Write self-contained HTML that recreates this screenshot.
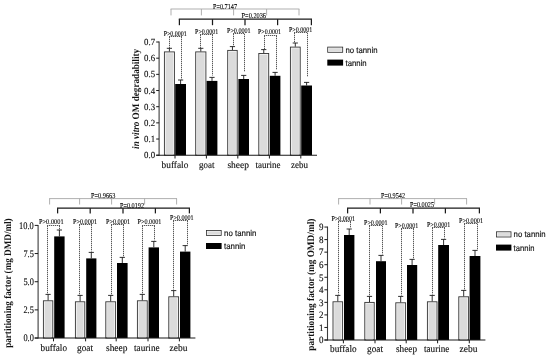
<!DOCTYPE html>
<html lang="en"><head><meta charset="utf-8"><title>Figure</title>
<style>
html,body{margin:0;padding:0;background:#fff;}
body{width:550px;height:359px;overflow:hidden;}
svg{display:block;text-rendering:geometricPrecision;}

.sf{font-family:"Liberation Serif","DejaVu Serif",serif;}
.ss{font-family:"Liberation Sans","DejaVu Sans",sans-serif;}
</style></head><body>
<svg width="550" height="359" viewBox="0 0 550 359">
<rect x="0" y="0" width="550" height="359" fill="#ffffff"/>
<rect x="164.40" y="51.90" width="10.00" height="103.30" fill="#f6f6f6" stroke="#333" stroke-width="0.9"/>
<rect x="165.70" y="53.20" width="7.40" height="102.00" fill="#dbdbdb"/>
<rect x="175.20" y="84.00" width="10.80" height="71.20" fill="#000"/>
<line x1="169.40" y1="51.50" x2="169.40" y2="48.30" stroke="#1a1a1a" stroke-width="0.9" />
<line x1="166.80" y1="48.30" x2="172.00" y2="48.30" stroke="#1a1a1a" stroke-width="0.9" />
<line x1="180.60" y1="84.00" x2="180.60" y2="80.00" stroke="#1a1a1a" stroke-width="0.9" />
<line x1="178.00" y1="80.00" x2="183.20" y2="80.00" stroke="#1a1a1a" stroke-width="0.9" />
<rect x="195.70" y="51.90" width="10.20" height="103.30" fill="#f6f6f6" stroke="#333" stroke-width="0.9"/>
<rect x="197.00" y="53.20" width="7.60" height="102.00" fill="#dbdbdb"/>
<rect x="206.60" y="80.90" width="10.80" height="74.30" fill="#000"/>
<line x1="200.80" y1="51.50" x2="200.80" y2="48.30" stroke="#1a1a1a" stroke-width="0.9" />
<line x1="198.20" y1="48.30" x2="203.40" y2="48.30" stroke="#1a1a1a" stroke-width="0.9" />
<line x1="212.00" y1="80.90" x2="212.00" y2="77.40" stroke="#1a1a1a" stroke-width="0.9" />
<line x1="209.40" y1="77.40" x2="214.60" y2="77.40" stroke="#1a1a1a" stroke-width="0.9" />
<rect x="227.70" y="50.40" width="9.50" height="104.80" fill="#f6f6f6" stroke="#333" stroke-width="0.9"/>
<rect x="229.00" y="51.70" width="6.90" height="103.50" fill="#dbdbdb"/>
<rect x="238.40" y="79.00" width="10.60" height="76.20" fill="#000"/>
<line x1="232.45" y1="50.00" x2="232.45" y2="46.60" stroke="#1a1a1a" stroke-width="0.9" />
<line x1="229.85" y1="46.60" x2="235.05" y2="46.60" stroke="#1a1a1a" stroke-width="0.9" />
<line x1="243.70" y1="79.00" x2="243.70" y2="75.40" stroke="#1a1a1a" stroke-width="0.9" />
<line x1="241.10" y1="75.40" x2="246.30" y2="75.40" stroke="#1a1a1a" stroke-width="0.9" />
<rect x="258.80" y="53.50" width="9.90" height="101.70" fill="#f6f6f6" stroke="#333" stroke-width="0.9"/>
<rect x="260.10" y="54.80" width="7.30" height="100.40" fill="#dbdbdb"/>
<rect x="269.80" y="75.80" width="10.60" height="79.40" fill="#000"/>
<line x1="263.75" y1="53.10" x2="263.75" y2="49.60" stroke="#1a1a1a" stroke-width="0.9" />
<line x1="261.15" y1="49.60" x2="266.35" y2="49.60" stroke="#1a1a1a" stroke-width="0.9" />
<line x1="275.10" y1="75.80" x2="275.10" y2="72.40" stroke="#1a1a1a" stroke-width="0.9" />
<line x1="272.50" y1="72.40" x2="277.70" y2="72.40" stroke="#1a1a1a" stroke-width="0.9" />
<rect x="290.40" y="47.10" width="9.80" height="108.10" fill="#f6f6f6" stroke="#333" stroke-width="0.9"/>
<rect x="291.70" y="48.40" width="7.20" height="106.80" fill="#dbdbdb"/>
<rect x="301.20" y="85.50" width="10.80" height="69.70" fill="#000"/>
<line x1="295.30" y1="46.70" x2="295.30" y2="43.00" stroke="#1a1a1a" stroke-width="0.9" />
<line x1="292.70" y1="43.00" x2="297.90" y2="43.00" stroke="#1a1a1a" stroke-width="0.9" />
<line x1="306.60" y1="85.50" x2="306.60" y2="82.40" stroke="#1a1a1a" stroke-width="0.9" />
<line x1="304.00" y1="82.40" x2="309.20" y2="82.40" stroke="#1a1a1a" stroke-width="0.9" />
<line x1="169.00" y1="36.50" x2="182.00" y2="36.50" stroke="#444" stroke-width="0.9" stroke-dasharray="1.3 0.7"/>
<line x1="169.50" y1="37.00" x2="169.50" y2="48.00" stroke="#444" stroke-width="0.9" stroke-dasharray="1.3 0.7"/>
<line x1="181.50" y1="37.00" x2="181.50" y2="79.50" stroke="#444" stroke-width="0.9" stroke-dasharray="1.3 0.7"/>
<text class="sf" x="163.70" y="35.70" font-size="7.1" font-weight="normal" text-anchor="start" fill="#000" textLength="23.10" lengthAdjust="spacingAndGlyphs"  stroke="#000" stroke-width="0.1">P&gt;0.0001</text>
<line x1="200.00" y1="34.50" x2="213.00" y2="34.50" stroke="#444" stroke-width="0.9" stroke-dasharray="1.3 0.7"/>
<line x1="200.50" y1="35.00" x2="200.50" y2="48.00" stroke="#444" stroke-width="0.9" stroke-dasharray="1.3 0.7"/>
<line x1="212.50" y1="35.00" x2="212.50" y2="75.50" stroke="#444" stroke-width="0.9" stroke-dasharray="1.3 0.7"/>
<text class="sf" x="195.10" y="34.10" font-size="7.1" font-weight="normal" text-anchor="start" fill="#000" textLength="23.20" lengthAdjust="spacingAndGlyphs"  stroke="#000" stroke-width="0.1">P&gt;0.0001</text>
<line x1="233.00" y1="33.50" x2="245.00" y2="33.50" stroke="#444" stroke-width="0.9" stroke-dasharray="1.3 0.7"/>
<line x1="233.50" y1="34.00" x2="233.50" y2="46.30" stroke="#444" stroke-width="0.9" stroke-dasharray="1.3 0.7"/>
<line x1="244.50" y1="34.00" x2="244.50" y2="71.50" stroke="#444" stroke-width="0.9" stroke-dasharray="1.3 0.7"/>
<text class="sf" x="227.00" y="32.60" font-size="7.1" font-weight="normal" text-anchor="start" fill="#000" textLength="23.60" lengthAdjust="spacingAndGlyphs"  stroke="#000" stroke-width="0.1">P&gt;0.0001</text>
<line x1="264.00" y1="35.50" x2="277.00" y2="35.50" stroke="#444" stroke-width="0.9" stroke-dasharray="1.3 0.7"/>
<line x1="264.50" y1="36.00" x2="264.50" y2="49.30" stroke="#444" stroke-width="0.9" stroke-dasharray="1.3 0.7"/>
<line x1="276.50" y1="36.00" x2="276.50" y2="69.50" stroke="#444" stroke-width="0.9" stroke-dasharray="1.3 0.7"/>
<text class="sf" x="258.00" y="34.40" font-size="7.1" font-weight="normal" text-anchor="start" fill="#000" textLength="23.00" lengthAdjust="spacingAndGlyphs"  stroke="#000" stroke-width="0.1">P&gt;0.0001</text>
<line x1="294.00" y1="32.50" x2="308.00" y2="32.50" stroke="#444" stroke-width="0.9" stroke-dasharray="1.3 0.7"/>
<line x1="294.50" y1="33.00" x2="294.50" y2="42.70" stroke="#444" stroke-width="0.9" stroke-dasharray="1.3 0.7"/>
<line x1="307.50" y1="33.00" x2="307.50" y2="77.00" stroke="#444" stroke-width="0.9" stroke-dasharray="1.3 0.7"/>
<text class="sf" x="289.00" y="31.60" font-size="7.1" font-weight="normal" text-anchor="start" fill="#000" textLength="23.40" lengthAdjust="spacingAndGlyphs"  stroke="#000" stroke-width="0.1">P&gt;0.0001</text>
<line x1="170.60" y1="9.00" x2="299.40" y2="9.00" stroke="#a6a6a6" stroke-width="0.9" />
<line x1="171.00" y1="9.00" x2="171.00" y2="15.40" stroke="#a6a6a6" stroke-width="0.9" />
<line x1="201.40" y1="9.00" x2="201.40" y2="15.40" stroke="#a6a6a6" stroke-width="0.9" />
<line x1="233.60" y1="9.00" x2="233.60" y2="15.40" stroke="#a6a6a6" stroke-width="0.9" />
<line x1="266.60" y1="9.00" x2="266.60" y2="15.40" stroke="#a6a6a6" stroke-width="0.9" />
<line x1="299.00" y1="9.00" x2="299.00" y2="15.40" stroke="#a6a6a6" stroke-width="0.9" />
<text class="sf" x="213.00" y="8.70" font-size="7.5" font-weight="normal" text-anchor="start" fill="#000" textLength="24.00" lengthAdjust="spacingAndGlyphs"  stroke="#000" stroke-width="0.1">P=0.7147</text>
<line x1="178.80" y1="19.20" x2="312.00" y2="19.20" stroke="#1a1a1a" stroke-width="1.25" />
<line x1="179.40" y1="19.20" x2="179.40" y2="25.20" stroke="#1a1a1a" stroke-width="1.25" />
<line x1="212.50" y1="19.20" x2="212.50" y2="25.20" stroke="#1a1a1a" stroke-width="1.25" />
<line x1="245.00" y1="19.20" x2="245.00" y2="25.20" stroke="#1a1a1a" stroke-width="1.25" />
<line x1="277.60" y1="19.20" x2="277.60" y2="25.20" stroke="#1a1a1a" stroke-width="1.25" />
<line x1="311.40" y1="19.20" x2="311.40" y2="25.20" stroke="#1a1a1a" stroke-width="1.25" />
<text class="sf" x="241.60" y="18.30" font-size="7.5" font-weight="normal" text-anchor="start" fill="#000" textLength="24.40" lengthAdjust="spacingAndGlyphs"  stroke="#000" stroke-width="0.1">P=0.2036</text>
<line x1="159.10" y1="41.50" x2="159.10" y2="155.70" stroke="#3c3c3c" stroke-width="1.1" />
<line x1="156.20" y1="155.20" x2="317.00" y2="155.20" stroke="#1a1a1a" stroke-width="1.1" />
<line x1="156.20" y1="155.20" x2="159.10" y2="155.20" stroke="#1a1a1a" stroke-width="1.0" />
<text class="sf" x="155.10" y="158.34" font-size="9.3" font-weight="normal" text-anchor="end" fill="#111" textLength="11.00" lengthAdjust="spacingAndGlyphs"  stroke="#111" stroke-width="0.14">0.0</text>
<line x1="156.20" y1="139.03" x2="159.10" y2="139.03" stroke="#1a1a1a" stroke-width="1.0" />
<text class="sf" x="155.10" y="142.17" font-size="9.3" font-weight="normal" text-anchor="end" fill="#111" textLength="11.00" lengthAdjust="spacingAndGlyphs"  stroke="#111" stroke-width="0.14">0.1</text>
<line x1="156.20" y1="122.86" x2="159.10" y2="122.86" stroke="#1a1a1a" stroke-width="1.0" />
<text class="sf" x="155.10" y="126.00" font-size="9.3" font-weight="normal" text-anchor="end" fill="#111" textLength="11.00" lengthAdjust="spacingAndGlyphs"  stroke="#111" stroke-width="0.14">0.2</text>
<line x1="156.20" y1="106.69" x2="159.10" y2="106.69" stroke="#1a1a1a" stroke-width="1.0" />
<text class="sf" x="155.10" y="109.83" font-size="9.3" font-weight="normal" text-anchor="end" fill="#111" textLength="11.00" lengthAdjust="spacingAndGlyphs"  stroke="#111" stroke-width="0.14">0.3</text>
<line x1="156.20" y1="90.52" x2="159.10" y2="90.52" stroke="#1a1a1a" stroke-width="1.0" />
<text class="sf" x="155.10" y="93.66" font-size="9.3" font-weight="normal" text-anchor="end" fill="#111" textLength="11.00" lengthAdjust="spacingAndGlyphs"  stroke="#111" stroke-width="0.14">0.4</text>
<line x1="156.20" y1="74.35" x2="159.10" y2="74.35" stroke="#1a1a1a" stroke-width="1.0" />
<text class="sf" x="155.10" y="77.49" font-size="9.3" font-weight="normal" text-anchor="end" fill="#111" textLength="11.00" lengthAdjust="spacingAndGlyphs"  stroke="#111" stroke-width="0.14">0.5</text>
<line x1="156.20" y1="58.18" x2="159.10" y2="58.18" stroke="#1a1a1a" stroke-width="1.0" />
<text class="sf" x="155.10" y="61.32" font-size="9.3" font-weight="normal" text-anchor="end" fill="#111" textLength="11.00" lengthAdjust="spacingAndGlyphs"  stroke="#111" stroke-width="0.14">0.6</text>
<line x1="156.20" y1="42.01" x2="159.10" y2="42.01" stroke="#1a1a1a" stroke-width="1.0" />
<text class="sf" x="155.10" y="45.15" font-size="9.3" font-weight="normal" text-anchor="end" fill="#111" textLength="11.00" lengthAdjust="spacingAndGlyphs"  stroke="#111" stroke-width="0.14">0.7</text>
<line x1="175.00" y1="155.20" x2="175.00" y2="158.50" stroke="#1a1a1a" stroke-width="1.0" />
<line x1="206.40" y1="155.20" x2="206.40" y2="158.50" stroke="#1a1a1a" stroke-width="1.0" />
<line x1="237.80" y1="155.20" x2="237.80" y2="158.50" stroke="#1a1a1a" stroke-width="1.0" />
<line x1="269.40" y1="155.20" x2="269.40" y2="158.50" stroke="#1a1a1a" stroke-width="1.0" />
<line x1="300.80" y1="155.20" x2="300.80" y2="158.50" stroke="#1a1a1a" stroke-width="1.0" />
<text class="sf" x="161.60" y="167.50" font-size="9.7" font-weight="normal" text-anchor="start" fill="#111" textLength="26.80" lengthAdjust="spacingAndGlyphs"  stroke="#111" stroke-width="0.14">buffalo</text>
<text class="sf" x="199.00" y="167.50" font-size="9.7" font-weight="normal" text-anchor="start" fill="#111" textLength="15.40" lengthAdjust="spacingAndGlyphs"  stroke="#111" stroke-width="0.14">goat</text>
<text class="sf" x="227.40" y="167.50" font-size="9.7" font-weight="normal" text-anchor="start" fill="#111" textLength="21.60" lengthAdjust="spacingAndGlyphs"  stroke="#111" stroke-width="0.14">sheep</text>
<text class="sf" x="255.60" y="167.50" font-size="9.7" font-weight="normal" text-anchor="start" fill="#111" textLength="25.00" lengthAdjust="spacingAndGlyphs"  stroke="#111" stroke-width="0.14">taurine</text>
<text class="sf" x="291.00" y="167.50" font-size="9.7" font-weight="normal" text-anchor="start" fill="#111" textLength="17.00" lengthAdjust="spacingAndGlyphs"  stroke="#111" stroke-width="0.14">zebu</text>
<rect x="327.70" y="47.10" width="15.00" height="5.20" fill="#f4f4f4" stroke="#2b2b2b" stroke-width="0.8"/>
<rect x="328.80" y="48.20" width="12.80" height="3.00" fill="#dcdcdc"/>
<rect x="327.30" y="59.60" width="15.80" height="6.00" fill="#000"/>
<text class="ss" x="345.50" y="52.70" font-size="8.4" font-weight="normal" text-anchor="start" fill="#111" textLength="32.00" lengthAdjust="spacingAndGlyphs"  stroke="#111" stroke-width="0.15">no tannin</text>
<text class="ss" x="345.50" y="65.60" font-size="8.4" font-weight="normal" text-anchor="start" fill="#111" textLength="21.20" lengthAdjust="spacingAndGlyphs"  stroke="#111" stroke-width="0.15">tannin</text>
<text class="sf" transform="translate(139.00,98.90) rotate(-90) scale(1,1.0)" font-size="10.0" font-weight="bold" text-anchor="middle" fill="#111" textLength="100.00" lengthAdjust="spacingAndGlyphs"><tspan font-style="italic">in vitro</tspan> OM degradability</text>
<rect x="43.40" y="300.80" width="9.40" height="37.25" fill="#f6f6f6" stroke="#333" stroke-width="0.9"/>
<rect x="44.70" y="302.10" width="6.80" height="35.95" fill="#dbdbdb"/>
<rect x="54.20" y="236.40" width="10.40" height="101.65" fill="#000"/>
<line x1="48.10" y1="300.40" x2="48.10" y2="294.40" stroke="#1a1a1a" stroke-width="0.9" />
<line x1="45.50" y1="294.40" x2="50.70" y2="294.40" stroke="#1a1a1a" stroke-width="0.9" />
<line x1="59.40" y1="236.40" x2="59.40" y2="230.00" stroke="#1a1a1a" stroke-width="0.9" />
<line x1="56.80" y1="230.00" x2="62.00" y2="230.00" stroke="#1a1a1a" stroke-width="0.9" />
<rect x="75.40" y="301.80" width="9.40" height="36.25" fill="#f6f6f6" stroke="#333" stroke-width="0.9"/>
<rect x="76.70" y="303.10" width="6.80" height="34.95" fill="#dbdbdb"/>
<rect x="86.20" y="258.40" width="10.20" height="79.65" fill="#000"/>
<line x1="80.10" y1="301.40" x2="80.10" y2="295.40" stroke="#1a1a1a" stroke-width="0.9" />
<line x1="77.50" y1="295.40" x2="82.70" y2="295.40" stroke="#1a1a1a" stroke-width="0.9" />
<line x1="91.30" y1="258.40" x2="91.30" y2="252.40" stroke="#1a1a1a" stroke-width="0.9" />
<line x1="88.70" y1="252.40" x2="93.90" y2="252.40" stroke="#1a1a1a" stroke-width="0.9" />
<rect x="105.80" y="301.80" width="9.80" height="36.25" fill="#f6f6f6" stroke="#333" stroke-width="0.9"/>
<rect x="107.10" y="303.10" width="7.20" height="34.95" fill="#dbdbdb"/>
<rect x="117.00" y="263.00" width="10.60" height="75.05" fill="#000"/>
<line x1="110.70" y1="301.40" x2="110.70" y2="295.40" stroke="#1a1a1a" stroke-width="0.9" />
<line x1="108.10" y1="295.40" x2="113.30" y2="295.40" stroke="#1a1a1a" stroke-width="0.9" />
<line x1="122.30" y1="263.00" x2="122.30" y2="257.40" stroke="#1a1a1a" stroke-width="0.9" />
<line x1="119.70" y1="257.40" x2="124.90" y2="257.40" stroke="#1a1a1a" stroke-width="0.9" />
<rect x="137.40" y="300.80" width="9.80" height="37.25" fill="#f6f6f6" stroke="#333" stroke-width="0.9"/>
<rect x="138.70" y="302.10" width="7.20" height="35.95" fill="#dbdbdb"/>
<rect x="148.60" y="247.40" width="10.40" height="90.65" fill="#000"/>
<line x1="142.30" y1="300.40" x2="142.30" y2="294.40" stroke="#1a1a1a" stroke-width="0.9" />
<line x1="139.70" y1="294.40" x2="144.90" y2="294.40" stroke="#1a1a1a" stroke-width="0.9" />
<line x1="153.80" y1="247.40" x2="153.80" y2="241.40" stroke="#1a1a1a" stroke-width="0.9" />
<line x1="151.20" y1="241.40" x2="156.40" y2="241.40" stroke="#1a1a1a" stroke-width="0.9" />
<rect x="168.80" y="296.80" width="9.80" height="41.25" fill="#f6f6f6" stroke="#333" stroke-width="0.9"/>
<rect x="170.10" y="298.10" width="7.20" height="39.95" fill="#dbdbdb"/>
<rect x="180.00" y="251.60" width="10.40" height="86.45" fill="#000"/>
<line x1="173.70" y1="296.40" x2="173.70" y2="290.60" stroke="#1a1a1a" stroke-width="0.9" />
<line x1="171.10" y1="290.60" x2="176.30" y2="290.60" stroke="#1a1a1a" stroke-width="0.9" />
<line x1="185.20" y1="251.60" x2="185.20" y2="245.60" stroke="#1a1a1a" stroke-width="0.9" />
<line x1="182.60" y1="245.60" x2="187.80" y2="245.60" stroke="#1a1a1a" stroke-width="0.9" />
<line x1="47.00" y1="225.50" x2="60.00" y2="225.50" stroke="#444" stroke-width="0.9" stroke-dasharray="1.3 0.7"/>
<line x1="47.50" y1="226.00" x2="47.50" y2="293.50" stroke="#444" stroke-width="0.9" stroke-dasharray="1.3 0.7"/>
<line x1="59.50" y1="226.00" x2="59.50" y2="229.50" stroke="#444" stroke-width="0.9" stroke-dasharray="1.3 0.7"/>
<text class="sf" x="39.00" y="224.40" font-size="7.1" font-weight="normal" text-anchor="start" fill="#000" textLength="24.60" lengthAdjust="spacingAndGlyphs"  stroke="#000" stroke-width="0.1">P&gt;0.0001</text>
<line x1="79.00" y1="224.50" x2="92.00" y2="224.50" stroke="#444" stroke-width="0.9" stroke-dasharray="1.3 0.7"/>
<line x1="79.50" y1="225.00" x2="79.50" y2="294.50" stroke="#444" stroke-width="0.9" stroke-dasharray="1.3 0.7"/>
<line x1="91.50" y1="225.00" x2="91.50" y2="251.50" stroke="#444" stroke-width="0.9" stroke-dasharray="1.3 0.7"/>
<text class="sf" x="73.00" y="224.40" font-size="7.1" font-weight="normal" text-anchor="start" fill="#000" textLength="24.00" lengthAdjust="spacingAndGlyphs"  stroke="#000" stroke-width="0.1">P&gt;0.0001</text>
<line x1="111.00" y1="224.50" x2="124.00" y2="224.50" stroke="#444" stroke-width="0.9" stroke-dasharray="1.3 0.7"/>
<line x1="111.50" y1="225.00" x2="111.50" y2="294.50" stroke="#444" stroke-width="0.9" stroke-dasharray="1.3 0.7"/>
<line x1="123.50" y1="225.00" x2="123.50" y2="256.30" stroke="#444" stroke-width="0.9" stroke-dasharray="1.3 0.7"/>
<text class="sf" x="106.00" y="224.40" font-size="7.1" font-weight="normal" text-anchor="start" fill="#000" textLength="24.00" lengthAdjust="spacingAndGlyphs"  stroke="#000" stroke-width="0.1">P&gt;0.0001</text>
<line x1="142.00" y1="225.50" x2="155.00" y2="225.50" stroke="#444" stroke-width="0.9" stroke-dasharray="1.3 0.7"/>
<line x1="142.50" y1="226.00" x2="142.50" y2="293.60" stroke="#444" stroke-width="0.9" stroke-dasharray="1.3 0.7"/>
<line x1="154.50" y1="226.00" x2="154.50" y2="240.30" stroke="#444" stroke-width="0.9" stroke-dasharray="1.3 0.7"/>
<text class="sf" x="137.60" y="224.40" font-size="7.1" font-weight="normal" text-anchor="start" fill="#000" textLength="23.80" lengthAdjust="spacingAndGlyphs"  stroke="#000" stroke-width="0.1">P&gt;0.0001</text>
<line x1="173.00" y1="220.50" x2="188.00" y2="220.50" stroke="#444" stroke-width="0.9" stroke-dasharray="1.3 0.7"/>
<line x1="173.50" y1="221.00" x2="173.50" y2="289.50" stroke="#444" stroke-width="0.9" stroke-dasharray="1.3 0.7"/>
<line x1="187.50" y1="221.00" x2="187.50" y2="244.60" stroke="#444" stroke-width="0.9" stroke-dasharray="1.3 0.7"/>
<text class="sf" x="170.00" y="220.30" font-size="7.1" font-weight="normal" text-anchor="start" fill="#000" textLength="23.60" lengthAdjust="spacingAndGlyphs"  stroke="#000" stroke-width="0.1">P&gt;0.0001</text>
<line x1="49.20" y1="198.60" x2="177.00" y2="198.60" stroke="#a6a6a6" stroke-width="0.9" />
<line x1="49.60" y1="198.60" x2="49.60" y2="204.50" stroke="#a6a6a6" stroke-width="0.9" />
<line x1="79.60" y1="198.60" x2="79.60" y2="204.50" stroke="#a6a6a6" stroke-width="0.9" />
<line x1="111.60" y1="198.60" x2="111.60" y2="204.50" stroke="#a6a6a6" stroke-width="0.9" />
<line x1="144.60" y1="198.60" x2="144.60" y2="204.50" stroke="#a6a6a6" stroke-width="0.9" />
<line x1="176.60" y1="198.60" x2="176.60" y2="204.50" stroke="#a6a6a6" stroke-width="0.9" />
<text class="sf" x="91.00" y="198.00" font-size="7.5" font-weight="normal" text-anchor="start" fill="#000" textLength="24.40" lengthAdjust="spacingAndGlyphs"  stroke="#000" stroke-width="0.1">P=0.9663</text>
<line x1="57.00" y1="208.20" x2="190.00" y2="208.20" stroke="#1a1a1a" stroke-width="1.25" />
<line x1="57.60" y1="208.20" x2="57.60" y2="213.40" stroke="#1a1a1a" stroke-width="1.25" />
<line x1="90.20" y1="208.20" x2="90.20" y2="213.40" stroke="#1a1a1a" stroke-width="1.25" />
<line x1="123.00" y1="208.20" x2="123.00" y2="213.40" stroke="#1a1a1a" stroke-width="1.25" />
<line x1="155.40" y1="208.20" x2="155.40" y2="213.40" stroke="#1a1a1a" stroke-width="1.25" />
<line x1="189.40" y1="208.20" x2="189.40" y2="213.40" stroke="#1a1a1a" stroke-width="1.25" />
<text class="sf" x="120.00" y="207.50" font-size="7.5" font-weight="normal" text-anchor="start" fill="#000" textLength="24.00" lengthAdjust="spacingAndGlyphs"  stroke="#000" stroke-width="0.1">P=0.0192</text>
<line x1="38.10" y1="224.90" x2="38.10" y2="338.55" stroke="#3c3c3c" stroke-width="1.1" />
<line x1="34.70" y1="338.05" x2="195.40" y2="338.05" stroke="#1a1a1a" stroke-width="1.1" />
<line x1="34.70" y1="338.05" x2="38.10" y2="338.05" stroke="#1a1a1a" stroke-width="1.0" />
<text class="sf" x="33.80" y="341.46" font-size="10.1" font-weight="normal" text-anchor="end" fill="#111" textLength="10.40" lengthAdjust="spacingAndGlyphs"  stroke="#111" stroke-width="0.14">0.0</text>
<line x1="34.70" y1="309.89" x2="38.10" y2="309.89" stroke="#1a1a1a" stroke-width="1.0" />
<text class="sf" x="33.80" y="313.30" font-size="10.1" font-weight="normal" text-anchor="end" fill="#111" textLength="10.40" lengthAdjust="spacingAndGlyphs"  stroke="#111" stroke-width="0.14">2.5</text>
<line x1="34.70" y1="281.73" x2="38.10" y2="281.73" stroke="#1a1a1a" stroke-width="1.0" />
<text class="sf" x="33.80" y="285.14" font-size="10.1" font-weight="normal" text-anchor="end" fill="#111" textLength="10.40" lengthAdjust="spacingAndGlyphs"  stroke="#111" stroke-width="0.14">5.0</text>
<line x1="34.70" y1="253.56" x2="38.10" y2="253.56" stroke="#1a1a1a" stroke-width="1.0" />
<text class="sf" x="33.80" y="256.98" font-size="10.1" font-weight="normal" text-anchor="end" fill="#111" textLength="10.40" lengthAdjust="spacingAndGlyphs"  stroke="#111" stroke-width="0.14">7.5</text>
<line x1="34.70" y1="225.40" x2="38.10" y2="225.40" stroke="#1a1a1a" stroke-width="1.0" />
<text class="sf" x="33.80" y="228.81" font-size="10.1" font-weight="normal" text-anchor="end" fill="#111" textLength="14.70" lengthAdjust="spacingAndGlyphs"  stroke="#111" stroke-width="0.14">10.0</text>
<line x1="53.50" y1="338.05" x2="53.50" y2="341.35" stroke="#1a1a1a" stroke-width="1.0" />
<line x1="85.60" y1="338.05" x2="85.60" y2="341.35" stroke="#1a1a1a" stroke-width="1.0" />
<line x1="116.20" y1="338.05" x2="116.20" y2="341.35" stroke="#1a1a1a" stroke-width="1.0" />
<line x1="148.00" y1="338.05" x2="148.00" y2="341.35" stroke="#1a1a1a" stroke-width="1.0" />
<line x1="179.40" y1="338.05" x2="179.40" y2="341.35" stroke="#1a1a1a" stroke-width="1.0" />
<text class="sf" x="40.60" y="350.80" font-size="9.9" font-weight="normal" text-anchor="start" fill="#111" textLength="26.40" lengthAdjust="spacingAndGlyphs"  stroke="#111" stroke-width="0.14">buffalo</text>
<text class="sf" x="77.00" y="350.80" font-size="9.9" font-weight="normal" text-anchor="start" fill="#111" textLength="16.00" lengthAdjust="spacingAndGlyphs"  stroke="#111" stroke-width="0.14">goat</text>
<text class="sf" x="106.00" y="350.80" font-size="9.9" font-weight="normal" text-anchor="start" fill="#111" textLength="21.40" lengthAdjust="spacingAndGlyphs"  stroke="#111" stroke-width="0.14">sheep</text>
<text class="sf" x="134.00" y="350.80" font-size="9.9" font-weight="normal" text-anchor="start" fill="#111" textLength="25.60" lengthAdjust="spacingAndGlyphs"  stroke="#111" stroke-width="0.14">taurine</text>
<text class="sf" x="169.60" y="350.80" font-size="9.9" font-weight="normal" text-anchor="start" fill="#111" textLength="17.80" lengthAdjust="spacingAndGlyphs"  stroke="#111" stroke-width="0.14">zebu</text>
<rect x="206.40" y="230.40" width="14.80" height="5.20" fill="#f4f4f4" stroke="#2b2b2b" stroke-width="0.8"/>
<rect x="207.50" y="231.50" width="12.60" height="3.00" fill="#dcdcdc"/>
<rect x="206.00" y="243.00" width="15.60" height="6.00" fill="#000"/>
<text class="ss" x="224.00" y="236.00" font-size="8.4" font-weight="normal" text-anchor="start" fill="#111" textLength="32.40" lengthAdjust="spacingAndGlyphs"  stroke="#111" stroke-width="0.15">no tannin</text>
<text class="ss" x="224.00" y="249.00" font-size="8.4" font-weight="normal" text-anchor="start" fill="#111" textLength="21.40" lengthAdjust="spacingAndGlyphs"  stroke="#111" stroke-width="0.15">tannin</text>
<text class="sf" transform="translate(10.90,283.10) rotate(-90) scale(1,1.0)" font-size="10.0" font-weight="bold" text-anchor="middle" fill="#111" textLength="129.50" lengthAdjust="spacingAndGlyphs">partitioning factor (mg DMD/ml)</text>
<rect x="333.00" y="301.80" width="9.60" height="38.20" fill="#f6f6f6" stroke="#333" stroke-width="0.9"/>
<rect x="334.30" y="303.10" width="7.00" height="36.90" fill="#dbdbdb"/>
<rect x="344.00" y="235.00" width="10.40" height="105.00" fill="#000"/>
<line x1="337.80" y1="301.40" x2="337.80" y2="295.40" stroke="#1a1a1a" stroke-width="0.9" />
<line x1="335.20" y1="295.40" x2="340.40" y2="295.40" stroke="#1a1a1a" stroke-width="0.9" />
<line x1="349.20" y1="235.00" x2="349.20" y2="229.00" stroke="#1a1a1a" stroke-width="0.9" />
<line x1="346.60" y1="229.00" x2="351.80" y2="229.00" stroke="#1a1a1a" stroke-width="0.9" />
<rect x="364.80" y="302.40" width="9.40" height="37.60" fill="#f6f6f6" stroke="#333" stroke-width="0.9"/>
<rect x="366.10" y="303.70" width="6.80" height="36.30" fill="#dbdbdb"/>
<rect x="376.00" y="261.20" width="10.00" height="78.80" fill="#000"/>
<line x1="369.50" y1="302.00" x2="369.50" y2="296.40" stroke="#1a1a1a" stroke-width="0.9" />
<line x1="366.90" y1="296.40" x2="372.10" y2="296.40" stroke="#1a1a1a" stroke-width="0.9" />
<line x1="381.00" y1="261.20" x2="381.00" y2="255.40" stroke="#1a1a1a" stroke-width="0.9" />
<line x1="378.40" y1="255.40" x2="383.60" y2="255.40" stroke="#1a1a1a" stroke-width="0.9" />
<rect x="395.80" y="302.80" width="9.80" height="37.20" fill="#f6f6f6" stroke="#333" stroke-width="0.9"/>
<rect x="397.10" y="304.10" width="7.20" height="35.90" fill="#dbdbdb"/>
<rect x="407.00" y="265.00" width="10.20" height="75.00" fill="#000"/>
<line x1="400.70" y1="302.40" x2="400.70" y2="296.40" stroke="#1a1a1a" stroke-width="0.9" />
<line x1="398.10" y1="296.40" x2="403.30" y2="296.40" stroke="#1a1a1a" stroke-width="0.9" />
<line x1="412.10" y1="265.00" x2="412.10" y2="259.40" stroke="#1a1a1a" stroke-width="0.9" />
<line x1="409.50" y1="259.40" x2="414.70" y2="259.40" stroke="#1a1a1a" stroke-width="0.9" />
<rect x="427.40" y="301.80" width="9.60" height="38.20" fill="#f6f6f6" stroke="#333" stroke-width="0.9"/>
<rect x="428.70" y="303.10" width="7.00" height="36.90" fill="#dbdbdb"/>
<rect x="438.20" y="245.00" width="10.80" height="95.00" fill="#000"/>
<line x1="432.20" y1="301.40" x2="432.20" y2="295.40" stroke="#1a1a1a" stroke-width="0.9" />
<line x1="429.60" y1="295.40" x2="434.80" y2="295.40" stroke="#1a1a1a" stroke-width="0.9" />
<line x1="443.60" y1="245.00" x2="443.60" y2="239.40" stroke="#1a1a1a" stroke-width="0.9" />
<line x1="441.00" y1="239.40" x2="446.20" y2="239.40" stroke="#1a1a1a" stroke-width="0.9" />
<rect x="458.80" y="296.80" width="9.80" height="43.20" fill="#f6f6f6" stroke="#333" stroke-width="0.9"/>
<rect x="460.10" y="298.10" width="7.20" height="41.90" fill="#dbdbdb"/>
<rect x="469.60" y="256.00" width="10.80" height="84.00" fill="#000"/>
<line x1="463.70" y1="296.40" x2="463.70" y2="290.40" stroke="#1a1a1a" stroke-width="0.9" />
<line x1="461.10" y1="290.40" x2="466.30" y2="290.40" stroke="#1a1a1a" stroke-width="0.9" />
<line x1="475.00" y1="256.00" x2="475.00" y2="250.40" stroke="#1a1a1a" stroke-width="0.9" />
<line x1="472.40" y1="250.40" x2="477.60" y2="250.40" stroke="#1a1a1a" stroke-width="0.9" />
<line x1="338.00" y1="221.50" x2="351.00" y2="221.50" stroke="#444" stroke-width="0.9" stroke-dasharray="1.3 0.7"/>
<line x1="338.50" y1="222.00" x2="338.50" y2="294.50" stroke="#444" stroke-width="0.9" stroke-dasharray="1.3 0.7"/>
<line x1="350.50" y1="222.00" x2="350.50" y2="228.00" stroke="#444" stroke-width="0.9" stroke-dasharray="1.3 0.7"/>
<text class="sf" x="331.40" y="220.60" font-size="7.1" font-weight="normal" text-anchor="start" fill="#000" textLength="23.60" lengthAdjust="spacingAndGlyphs"  stroke="#000" stroke-width="0.1">P&gt;0.0001</text>
<line x1="369.00" y1="225.50" x2="383.00" y2="225.50" stroke="#444" stroke-width="0.9" stroke-dasharray="1.3 0.7"/>
<line x1="369.50" y1="226.00" x2="369.50" y2="295.50" stroke="#444" stroke-width="0.9" stroke-dasharray="1.3 0.7"/>
<line x1="382.50" y1="226.00" x2="382.50" y2="254.40" stroke="#444" stroke-width="0.9" stroke-dasharray="1.3 0.7"/>
<text class="sf" x="364.00" y="225.00" font-size="7.1" font-weight="normal" text-anchor="start" fill="#000" textLength="23.60" lengthAdjust="spacingAndGlyphs"  stroke="#000" stroke-width="0.1">P&gt;0.0001</text>
<line x1="401.00" y1="228.50" x2="414.00" y2="228.50" stroke="#444" stroke-width="0.9" stroke-dasharray="1.3 0.7"/>
<line x1="401.50" y1="229.00" x2="401.50" y2="295.50" stroke="#444" stroke-width="0.9" stroke-dasharray="1.3 0.7"/>
<line x1="413.50" y1="229.00" x2="413.50" y2="258.40" stroke="#444" stroke-width="0.9" stroke-dasharray="1.3 0.7"/>
<text class="sf" x="395.00" y="228.00" font-size="7.1" font-weight="normal" text-anchor="start" fill="#000" textLength="23.40" lengthAdjust="spacingAndGlyphs"  stroke="#000" stroke-width="0.1">P&gt;0.0001</text>
<line x1="432.00" y1="227.50" x2="445.00" y2="227.50" stroke="#444" stroke-width="0.9" stroke-dasharray="1.3 0.7"/>
<line x1="432.50" y1="228.00" x2="432.50" y2="294.50" stroke="#444" stroke-width="0.9" stroke-dasharray="1.3 0.7"/>
<line x1="444.50" y1="228.00" x2="444.50" y2="238.40" stroke="#444" stroke-width="0.9" stroke-dasharray="1.3 0.7"/>
<text class="sf" x="427.00" y="227.00" font-size="7.1" font-weight="normal" text-anchor="start" fill="#000" textLength="23.40" lengthAdjust="spacingAndGlyphs"  stroke="#000" stroke-width="0.1">P&gt;0.0001</text>
<line x1="464.00" y1="223.50" x2="478.00" y2="223.50" stroke="#444" stroke-width="0.9" stroke-dasharray="1.3 0.7"/>
<line x1="464.50" y1="224.00" x2="464.50" y2="289.50" stroke="#444" stroke-width="0.9" stroke-dasharray="1.3 0.7"/>
<line x1="477.50" y1="224.00" x2="477.50" y2="249.40" stroke="#444" stroke-width="0.9" stroke-dasharray="1.3 0.7"/>
<text class="sf" x="459.00" y="222.60" font-size="7.1" font-weight="normal" text-anchor="start" fill="#000" textLength="24.00" lengthAdjust="spacingAndGlyphs"  stroke="#000" stroke-width="0.1">P&gt;0.0001</text>
<line x1="338.20" y1="198.60" x2="467.00" y2="198.60" stroke="#a6a6a6" stroke-width="0.9" />
<line x1="338.60" y1="198.60" x2="338.60" y2="204.50" stroke="#a6a6a6" stroke-width="0.9" />
<line x1="370.00" y1="198.60" x2="370.00" y2="204.50" stroke="#a6a6a6" stroke-width="0.9" />
<line x1="401.60" y1="198.60" x2="401.60" y2="204.50" stroke="#a6a6a6" stroke-width="0.9" />
<line x1="434.60" y1="198.60" x2="434.60" y2="204.50" stroke="#a6a6a6" stroke-width="0.9" />
<line x1="466.60" y1="198.60" x2="466.60" y2="204.50" stroke="#a6a6a6" stroke-width="0.9" />
<text class="sf" x="381.00" y="197.80" font-size="7.5" font-weight="normal" text-anchor="start" fill="#000" textLength="24.00" lengthAdjust="spacingAndGlyphs"  stroke="#000" stroke-width="0.1">P=0.9542</text>
<line x1="347.00" y1="208.20" x2="480.00" y2="208.20" stroke="#1a1a1a" stroke-width="1.25" />
<line x1="347.60" y1="208.20" x2="347.60" y2="213.40" stroke="#1a1a1a" stroke-width="1.25" />
<line x1="380.40" y1="208.20" x2="380.40" y2="213.40" stroke="#1a1a1a" stroke-width="1.25" />
<line x1="413.00" y1="208.20" x2="413.00" y2="213.40" stroke="#1a1a1a" stroke-width="1.25" />
<line x1="445.40" y1="208.20" x2="445.40" y2="213.40" stroke="#1a1a1a" stroke-width="1.25" />
<line x1="479.40" y1="208.20" x2="479.40" y2="213.40" stroke="#1a1a1a" stroke-width="1.25" />
<text class="sf" x="410.00" y="207.20" font-size="7.5" font-weight="normal" text-anchor="start" fill="#000" textLength="24.00" lengthAdjust="spacingAndGlyphs"  stroke="#000" stroke-width="0.1">P=0.0025</text>
<line x1="327.50" y1="226.55" x2="327.50" y2="340.50" stroke="#3c3c3c" stroke-width="1.1" />
<line x1="324.40" y1="340.00" x2="485.40" y2="340.00" stroke="#1a1a1a" stroke-width="1.1" />
<line x1="324.40" y1="340.00" x2="327.50" y2="340.00" stroke="#1a1a1a" stroke-width="1.0" />
<text class="sf" x="323.50" y="343.31" font-size="9.8" font-weight="normal" text-anchor="end" fill="#111" textLength="4.50" lengthAdjust="spacingAndGlyphs"  stroke="#111" stroke-width="0.14">0</text>
<line x1="324.40" y1="327.45" x2="327.50" y2="327.45" stroke="#1a1a1a" stroke-width="1.0" />
<text class="sf" x="323.50" y="330.76" font-size="9.8" font-weight="normal" text-anchor="end" fill="#111" textLength="4.50" lengthAdjust="spacingAndGlyphs"  stroke="#111" stroke-width="0.14">1</text>
<line x1="324.40" y1="314.90" x2="327.50" y2="314.90" stroke="#1a1a1a" stroke-width="1.0" />
<text class="sf" x="323.50" y="318.21" font-size="9.8" font-weight="normal" text-anchor="end" fill="#111" textLength="4.50" lengthAdjust="spacingAndGlyphs"  stroke="#111" stroke-width="0.14">2</text>
<line x1="324.40" y1="302.35" x2="327.50" y2="302.35" stroke="#1a1a1a" stroke-width="1.0" />
<text class="sf" x="323.50" y="305.66" font-size="9.8" font-weight="normal" text-anchor="end" fill="#111" textLength="4.50" lengthAdjust="spacingAndGlyphs"  stroke="#111" stroke-width="0.14">3</text>
<line x1="324.40" y1="289.80" x2="327.50" y2="289.80" stroke="#1a1a1a" stroke-width="1.0" />
<text class="sf" x="323.50" y="293.11" font-size="9.8" font-weight="normal" text-anchor="end" fill="#111" textLength="4.50" lengthAdjust="spacingAndGlyphs"  stroke="#111" stroke-width="0.14">4</text>
<line x1="324.40" y1="277.25" x2="327.50" y2="277.25" stroke="#1a1a1a" stroke-width="1.0" />
<text class="sf" x="323.50" y="280.56" font-size="9.8" font-weight="normal" text-anchor="end" fill="#111" textLength="4.50" lengthAdjust="spacingAndGlyphs"  stroke="#111" stroke-width="0.14">5</text>
<line x1="324.40" y1="264.70" x2="327.50" y2="264.70" stroke="#1a1a1a" stroke-width="1.0" />
<text class="sf" x="323.50" y="268.01" font-size="9.8" font-weight="normal" text-anchor="end" fill="#111" textLength="4.50" lengthAdjust="spacingAndGlyphs"  stroke="#111" stroke-width="0.14">6</text>
<line x1="324.40" y1="252.15" x2="327.50" y2="252.15" stroke="#1a1a1a" stroke-width="1.0" />
<text class="sf" x="323.50" y="255.46" font-size="9.8" font-weight="normal" text-anchor="end" fill="#111" textLength="4.50" lengthAdjust="spacingAndGlyphs"  stroke="#111" stroke-width="0.14">7</text>
<line x1="324.40" y1="239.60" x2="327.50" y2="239.60" stroke="#1a1a1a" stroke-width="1.0" />
<text class="sf" x="323.50" y="242.91" font-size="9.8" font-weight="normal" text-anchor="end" fill="#111" textLength="4.50" lengthAdjust="spacingAndGlyphs"  stroke="#111" stroke-width="0.14">8</text>
<line x1="324.40" y1="227.05" x2="327.50" y2="227.05" stroke="#1a1a1a" stroke-width="1.0" />
<text class="sf" x="323.50" y="230.36" font-size="9.8" font-weight="normal" text-anchor="end" fill="#111" textLength="4.50" lengthAdjust="spacingAndGlyphs"  stroke="#111" stroke-width="0.14">9</text>
<line x1="343.40" y1="340.00" x2="343.40" y2="343.30" stroke="#1a1a1a" stroke-width="1.0" />
<line x1="375.00" y1="340.00" x2="375.00" y2="343.30" stroke="#1a1a1a" stroke-width="1.0" />
<line x1="406.20" y1="340.00" x2="406.20" y2="343.30" stroke="#1a1a1a" stroke-width="1.0" />
<line x1="437.60" y1="340.00" x2="437.60" y2="343.30" stroke="#1a1a1a" stroke-width="1.0" />
<line x1="469.30" y1="340.00" x2="469.30" y2="343.30" stroke="#1a1a1a" stroke-width="1.0" />
<text class="sf" x="330.00" y="351.90" font-size="10.0" font-weight="normal" text-anchor="start" fill="#111" textLength="26.60" lengthAdjust="spacingAndGlyphs"  stroke="#111" stroke-width="0.14">buffalo</text>
<text class="sf" x="367.00" y="351.90" font-size="10.0" font-weight="normal" text-anchor="start" fill="#111" textLength="16.00" lengthAdjust="spacingAndGlyphs"  stroke="#111" stroke-width="0.14">goat</text>
<text class="sf" x="396.00" y="351.90" font-size="10.0" font-weight="normal" text-anchor="start" fill="#111" textLength="21.00" lengthAdjust="spacingAndGlyphs"  stroke="#111" stroke-width="0.14">sheep</text>
<text class="sf" x="424.00" y="351.90" font-size="10.0" font-weight="normal" text-anchor="start" fill="#111" textLength="25.40" lengthAdjust="spacingAndGlyphs"  stroke="#111" stroke-width="0.14">taurine</text>
<text class="sf" x="459.60" y="351.90" font-size="10.0" font-weight="normal" text-anchor="start" fill="#111" textLength="17.80" lengthAdjust="spacingAndGlyphs"  stroke="#111" stroke-width="0.14">zebu</text>
<rect x="496.40" y="231.80" width="14.60" height="5.20" fill="#f4f4f4" stroke="#2b2b2b" stroke-width="0.8"/>
<rect x="497.50" y="232.90" width="12.40" height="3.00" fill="#dcdcdc"/>
<rect x="496.00" y="244.60" width="15.40" height="6.00" fill="#000"/>
<text class="ss" x="513.60" y="237.40" font-size="8.4" font-weight="normal" text-anchor="start" fill="#111" textLength="32.00" lengthAdjust="spacingAndGlyphs"  stroke="#111" stroke-width="0.15">no tannin</text>
<text class="ss" x="513.60" y="250.60" font-size="8.4" font-weight="normal" text-anchor="start" fill="#111" textLength="20.80" lengthAdjust="spacingAndGlyphs"  stroke="#111" stroke-width="0.15">tannin</text>
<text class="sf" transform="translate(314.30,284.70) rotate(-90) scale(1,1.0)" font-size="10.0" font-weight="bold" text-anchor="middle" fill="#111" textLength="132.00" lengthAdjust="spacingAndGlyphs">partitioning factor (mg OMD/ml)</text>
</svg>
</body></html>
